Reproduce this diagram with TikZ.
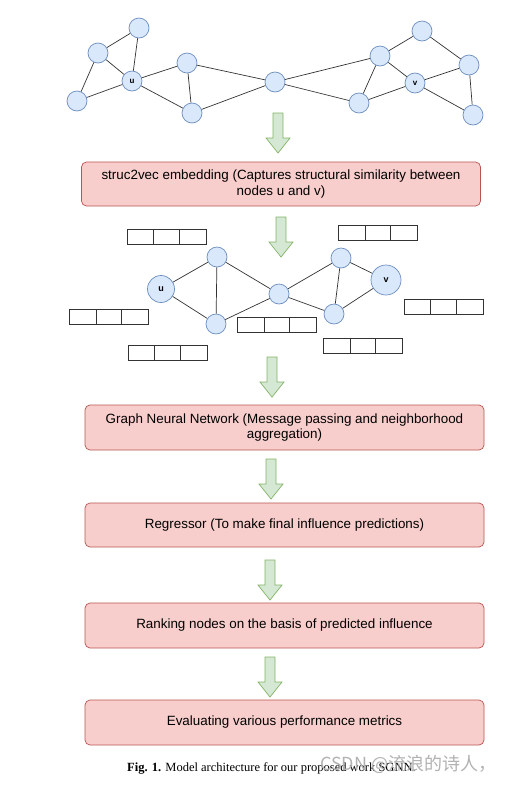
\documentclass[tikz,border=0pt]{standalone}
\usepackage{fontspec}
\setmainfont{Liberation Sans}
\newfontfamily\capfont{Liberation Serif}
\newfontfamily\cjk{Noto Sans CJK SC}
\usetikzlibrary{calc}
\definecolor{nodefill}{HTML}{DAE8FC}
\definecolor{nodedraw}{HTML}{6C8EBF}
\definecolor{boxfill}{HTML}{F8CECC}
\definecolor{boxdraw}{HTML}{B85450}
\definecolor{arrfill}{HTML}{D5E8D4}
\definecolor{arrdraw}{HTML}{82B366}
\definecolor{edgecol}{HTML}{333333}
\begin{document}
\begin{tikzpicture}[x=1pt,y=-1pt,
  gnode/.style={circle,draw=nodedraw,fill=nodefill,line width=0.7pt,minimum size=20pt,inner sep=0pt,font=\fontsize{8}{9}\selectfont\bfseries},
  bignode/.style={gnode,minimum size=27pt,font=\fontsize{9}{10}\selectfont\bfseries},
  vbignode/.style={gnode,minimum size=30pt,font=\fontsize{9}{10}\selectfont\bfseries},
  edge/.style={draw=edgecol,line width=0.7pt},
  stepbox/.style={rectangle,rounded corners=5pt,draw=boxdraw,fill=boxfill,line width=0.7pt,minimum width=399pt,align=center,font=\fontsize{13.4}{15.5}\selectfont},
  vecbox/.style={rectangle,draw=edgecol,line width=0.8pt,minimum width=79pt,minimum height=15pt,inner sep=0pt,
    path picture={\draw[edgecol,line width=0.8pt] ($(path picture bounding box.north west)!0.34!(path picture bounding box.north east)$) -- ($(path picture bounding box.south west)!0.34!(path picture bounding box.south east)$);
    \draw[edgecol,line width=0.8pt] ($(path picture bounding box.north west)!0.66!(path picture bounding box.north east)$) -- ($(path picture bounding box.south west)!0.66!(path picture bounding box.south east)$);}},
  downarr/.pic={\draw[draw=arrdraw,fill=arrfill,line width=0.7pt,line join=miter] (-5,0) -- (-5,25) -- (-12,25) -- (0,40) -- (12,25) -- (5,25) -- (5,0) -- cycle;}
]
\useasboundingbox (0,0) rectangle (529,785);

% ---- top graph ----
\node[gnode] (A) at (139,28) {};
\node[gnode] (B) at (98,53) {};
\node[gnode] (u) at (132,81) {u};
\node[gnode] (C) at (77,101) {};
\node[gnode] (D) at (187,63) {};
\node[gnode] (E) at (192,113) {};
\node[gnode] (F) at (275,82) {};
\node[gnode] (G) at (380,56) {};
\node[gnode] (H) at (422,31) {};
\node[gnode] (v) at (415,83) {v};
\node[gnode] (I) at (469,65) {};
\node[gnode] (J) at (359,103) {};
\node[gnode] (K) at (473,115) {};
\foreach \a/\b in {B/A,B/u,A/u,B/C,C/u,u/D,u/E,D/E,D/F,E/F,F/G,F/J,G/H,G/v,G/J,J/v,H/I,v/I,v/K,I/K}
  \draw[edge] (\a) -- (\b);

% ---- arrows and steps ----
\pic (a1) at (278,113) {downarr};
\node[stepbox,minimum height=44pt] (s1) at (281,184) {struc2vec embedding (Captures structural similarity between\\nodes u and v)};
\pic (a2) at (281,217) {downarr};

% ---- second graph ----
\node[bignode] (u2) at (161,289) {u};
\node[gnode] (na) at (217,257) {};
\node[gnode] (nb) at (216,324) {};
\node[gnode] (nc) at (279,294) {};
\node[gnode] (nd) at (341,258) {};
\node[vbignode] (v2) at (386,280) {v};
\node[gnode] (ne) at (334,314) {};
\foreach \a/\b in {u2/na,u2/nb,na/nb,na/nc,nb/nc,nc/nd,nc/ne,nd/ne,nd/v2,ne/v2}
  \draw[edge] (\a) -- (\b);

\node[vecbox] (e1) at (166.5,236.5) {};
\node[vecbox] (e2) at (378,232.5) {};
\node[vecbox] (e3) at (109,316.5) {};
\node[vecbox] (e4) at (277,324.5) {};
\node[vecbox] (e5) at (443.5,306.5) {};
\node[vecbox] (e6) at (167.5,352.5) {};
\node[vecbox] (e7) at (363,345.5) {};

\pic (a3) at (272,357) {downarr};
\node[stepbox,minimum height=45pt] (s2) at (284.5,427.5) {Graph Neural Network (Message passing and neighborhood\\aggregation)};
\pic (a4) at (271,459) {downarr};
\node[stepbox,minimum height=44pt] (s3) at (284.5,525) {Regressor (To make final influence predictions)};
\pic (a5) at (270,560) {downarr};
\node[stepbox,minimum height=45pt] (s4) at (284.5,625.5) {Ranking nodes on the basis of predicted influence};
\pic (a6) at (270,657) {downarr};
\node[stepbox,minimum height=45pt] (s5) at (284.5,722.5) {Evaluating various performance metrics};

% ---- caption ----
\node[anchor=west,inner sep=0pt,font=\capfont\fontsize{12.5}{13}\selectfont] (cap) at (127,768) {\textbf{Fig. 1.} Model architecture for our proposed work SGNN.};
\node[anchor=west,inner sep=0pt,text=black!30,font=\cjk\fontsize{18}{19}\selectfont] (wm) at (320,764) {CSDN @流浪的诗人，};
\end{tikzpicture}
\end{document}
